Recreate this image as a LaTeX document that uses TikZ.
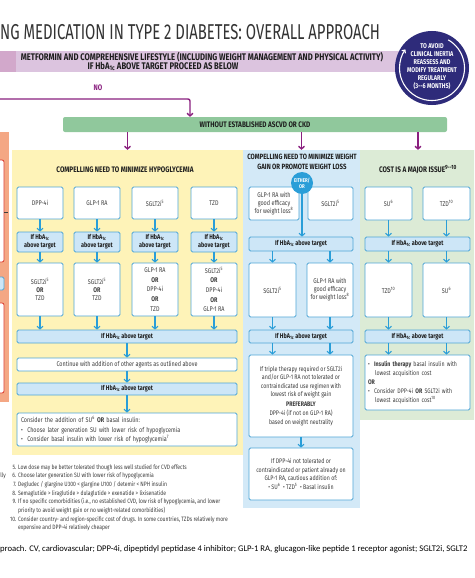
\documentclass[tikz,border=0pt]{standalone}
\usepackage{fontspec}
\usepackage{tikz}
\usetikzlibrary{arrows.meta}
\newfontfamily\dinf[FakeStretch=0.8]{Fira Sans}
\newfontfamily\titlef[FakeStretch=0.69]{Fira Sans}
\newfontfamily\capf{Carlito}
\definecolor{bandpurple}{HTML}{DCC4DF}
\definecolor{banddark}{HTML}{D2A8CB}
\definecolor{nopurple}{HTML}{8A1F7F}
\definecolor{circnavy}{HTML}{2E2B7A}
\definecolor{bandgreen}{HTML}{90C89C}
\definecolor{panelyellow}{HTML}{FEF3B8}
\definecolor{panelblue}{HTML}{D3E9F7}
\definecolor{panelgreen}{HTML}{DCEBD6}
\definecolor{boxblue}{HTML}{4FA6D6}
\definecolor{hbablue}{HTML}{CDE6F7}
\definecolor{arrowblue}{HTML}{2A9ED8}
\definecolor{textgray}{HTML}{3C3C3C}
\definecolor{headblack}{HTML}{1E1E1E}
\definecolor{stripeorange}{HTML}{F4A784}
\definecolor{ascvdred}{HTML}{DB3A2E}
\definecolor{titlegray}{HTML}{333333}
\tikzset{drug box/.style={draw=boxblue, fill=white, rounded corners=1.5pt, line width=0.8pt, align=center, inner sep=0pt, text=textgray, font=\dinf\fontsize{6.8}{8}\selectfont}}
\tikzset{hba box/.style={drug box, fill=hbablue, text=headblack, font=\dinf\bfseries\fontsize{6.8}{8}\selectfont}}
\tikzset{panel title/.style={align=center, inner sep=0pt, text=headblack, font=\dinf\bfseries\fontsize{8}{10}\selectfont}}
\tikzset{blue arrow/.style={draw=arrowblue, line width=1.1pt, -{Straight Barb[length=2.6pt, width=6pt]}}}
\tikzset{purple arrow/.style={draw=nopurple, line width=1.4pt, -{Straight Barb[length=2.6pt, width=6pt]}}}
\tikzset{note/.style={anchor=base west, inner sep=0pt, text=textgray, font=\dinf\fontsize{6.3}{7}\selectfont}}
\newcommand{\hbaone}{HbA\textsubscript{1c}}

\begin{document}
\begin{tikzpicture}[x=1pt, y=-1pt]
	\clip (0,0) rectangle (474,578);
	\fill[white] (0,0) rectangle (474,578);

	% title and metformin band
	\node[anchor=base west, inner sep=0pt, text=titlegray, font=\titlef\fontsize{21.5}{21.5}\selectfont] (title) at (0,40) {NG MEDICATION IN TYPE 2 DIABETES: OVERALL APPROACH};
	\fill[bandpurple] (0,51) rectangle (410,72);
	\fill[banddark] (0,51) rectangle (16,72);
	\node[panel title, anchor=base, font=\dinf\bfseries\fontsize{9.6}{9.6}\selectfont] (metformin) at (202,60.5) {METFORMIN AND COMPREHENSIVE LIFESTYLE (INCLUDING WEIGHT MANAGEMENT AND PHYSICAL ACTIVITY)};
	\node[panel title, anchor=base, font=\dinf\bfseries\fontsize{9.6}{9.6}\selectfont] (proceed) at (163,69.5) {IF \hbaone{} ABOVE TARGET PROCEED AS BELOW};

	% reassess circle
	\fill[circnavy] (432,68) circle (37);
	\draw[white, line width=1.1pt, -{Straight Barb[length=2.4pt, width=4.5pt]}] ([shift={(-60:32.5)}]432,68) arc[start angle=-60, end angle=215, radius=32.5];
	\node[align=center, inner sep=0pt, text=white, font=\dinf\bfseries\fontsize{6.9}{8}\selectfont] (reassess) at (432,67) {TO AVOID\\CLINICAL INERTIA\\REASSESS AND\\MODIFY TREATMENT\\REGULARLY\\(3--6 MONTHS)};

	% no branch
	\node[inner sep=0pt, text=nopurple, font=\dinf\bfseries\fontsize{8}{8}\selectfont] (no) at (98,88) {NO};
	\node[fill=bandgreen, rounded corners=2pt, minimum width=384, minimum height=15, panel title] (without) at (255,124.5) {WITHOUT ESTABLISHED ASCVD OR CKD};
	\coordinate (noleft) at (0,99);
	\coordinate (nocorner) at (190,99);
	\draw[purple arrow, rounded corners=2pt] (noleft) -- (nocorner) -- (nocorner |- without.north);

	% left strip, cut at the edge
	\fill[stripeorange] (0,132) rectangle (9,402);
	\draw[ascvdred, fill=white, line width=0.8pt, rounded corners=2pt] (-20,160) rectangle (4,262);
	\draw[textgray, line width=0.5pt] (4,212) -- (8,212);
	\draw[boxblue, fill=hbablue, line width=0.8pt, rounded corners=1.5pt] (-20,277) rectangle (4,290);
	\draw[ascvdred, fill=white, line width=0.8pt, rounded corners=2pt] (-20,303) rectangle (4,393);

	% panels
	\node[fill=panelyellow, minimum width=231, minimum height=305, inner sep=0pt] (hypo) at (127.5,302.5) {};
	\node[fill=panelblue, minimum width=117, minimum height=358, inner sep=0pt] (weight) at (301.5,329) {};
	\node[fill=panelgreen, minimum width=116, minimum height=270, inner sep=0pt] (cost) at (418,285) {};
	\draw[purple arrow] (without.south -| hypo) -- (hypo);
	\draw[purple arrow] (without.south -| weight) -- (weight);
	\draw[purple arrow] (without.south -| cost) -- (cost);

	% hypoglycemia
	\node[panel title] (hypoT) at (125,170) {COMPELLING NEED TO MINIMIZE HYPOGLYCEMIA};
	\node[drug box, minimum width=46, minimum height=32] (hyA) at (40,203) {DPP-4i};
	\node[drug box, minimum width=46, minimum height=32] (hyB) at (97,203) {GLP-1 RA};
	\node[drug box, minimum width=46, minimum height=32] (hyC) at (155,203) {SGLT2i\textsuperscript{5}};
	\node[drug box, minimum width=46, minimum height=32] (hyD) at (214,203) {TZD};
	\node[hba box, minimum width=46, minimum height=20] (hyA2) at (40,242) {If \hbaone\\above target};
	\node[hba box, minimum width=46, minimum height=20] (hyB2) at (97,242) {If \hbaone\\above target};
	\node[hba box, minimum width=46, minimum height=20] (hyC2) at (155,242) {If \hbaone\\above target};
	\node[hba box, minimum width=46, minimum height=20] (hyD2) at (214,242) {If \hbaone\\above target};
	\node[drug box, minimum width=46, minimum height=53] (hyA3) at (40,289.5) {SGLT2i\textsuperscript{5}\\\textbf{OR}\\TZD};
	\node[drug box, minimum width=46, minimum height=53] (hyB3) at (97,289.5) {SGLT2i\textsuperscript{5}\\\textbf{OR}\\TZD};
	\node[drug box, minimum width=46, minimum height=53, font=\dinf\fontsize{6.8}{9.6}\selectfont] (hyC3) at (155,289.5) {GLP-1 RA\\\textbf{OR}\\DPP-4i\\\textbf{OR}\\TZD};
	\node[drug box, minimum width=46, minimum height=53, font=\dinf\fontsize{6.8}{9.6}\selectfont] (hyD3) at (214,289.5) {SGLT2i\textsuperscript{5}\\\textbf{OR}\\DPP-4i\\\textbf{OR}\\GLP-1 RA};
	\node[hba box, minimum width=220, minimum height=13] (hyHb) at (127,336.5) {If \hbaone{} above target};
	\node[drug box, minimum width=220, minimum height=13] (hyCont) at (127,364.5) {Continue with addition of other agents as outlined above};
	\node[hba box, minimum width=220, minimum height=12] (hyHb2) at (127,389) {If \hbaone{} above target};
	\node[drug box, minimum height=33, text width=212, inner xsep=4pt, align=left, font=\dinf\fontsize{6.8}{8.8}\selectfont] (hyCons) at (127,429.5) {Consider the addition of SU\textsuperscript{6} \textbf{OR} basal insulin:\\[1pt]•\ \ Choose later generation SU with lower risk of hypoglycemia\\•\ \ Consider basal insulin with lower risk of hypoglycemia\textsuperscript{7}};

	\draw[blue arrow] (hyA) -- (hyA2);
	\draw[blue arrow] (hyB) -- (hyB2);
	\draw[blue arrow] (hyC) -- (hyC2);
	\draw[blue arrow] (hyD) -- (hyD2);
	\draw[blue arrow] (hyA2) -- (hyA3);
	\draw[blue arrow] (hyB2) -- (hyB3);
	\draw[blue arrow] (hyC2) -- (hyC3);
	\draw[blue arrow] (hyD2) -- (hyD3);
	\draw[blue arrow] (hyA3) -- (hyA3 |- hyHb.north);
	\draw[blue arrow] (hyB3) -- (hyB3 |- hyHb.north);
	\draw[blue arrow] (hyC3) -- (hyC3 |- hyHb.north);
	\draw[blue arrow] (hyD3) -- (hyD3 |- hyHb.north);
	\draw[blue arrow] (hyHb) -- (hyCont);
	\draw[blue arrow] (hyCont) -- (hyHb2);
	\draw[blue arrow] (hyHb2) -- (hyCons);

	% weight
	\node[panel title, font=\dinf\bfseries\fontsize{7.6}{9.6}\selectfont] (weightT) at (302,162) {COMPELLING NEED TO MINIMIZE WEIGHT\\GAIN OR PROMOTE WEIGHT LOSS};
	\node[drug box, minimum width=50, minimum height=33] (wtA) at (274,203.5) {GLP-1 RA with\\good efficacy\\for weight loss\textsuperscript{8}};
	\node[drug box, minimum width=45, minimum height=33] (wtB) at (330.5,203.5) {SGLT2i\textsuperscript{5}};
	\node[hba box, minimum width=104, minimum height=14] (wtHb) at (301,244) {If \hbaone{} above target};
	\node[drug box, minimum width=47, minimum height=54] (wtA3) at (272.5,290) {SGLT2i\textsuperscript{5}};
	\node[drug box, minimum width=46, minimum height=54] (wtB3) at (330,290) {GLP-1 RA with\\good efficacy\\for weight loss\textsuperscript{8}};
	\node[hba box, minimum width=104, minimum height=13] (wtHb2) at (301,336.5) {If \hbaone{} above target};
	\node[drug box, minimum width=104, minimum height=82, font=\dinf\fontsize{6.6}{8.3}\selectfont] (wtTriple) at (301,396) {If triple therapy required or SGLT2i\\and/or GLP-1 RA not tolerated or\\contraindicated use regimen with\\lowest risk of weight gain\\[1.5pt]\textbf{PREFERABLY}\\[1.5pt]DPP-4i (if not on GLP-1 RA)\\based on weight neutrality};
	\node[drug box, minimum width=104, minimum height=52, font=\dinf\fontsize{6.6}{8.8}\selectfont] (wtLast) at (301,474) {If DPP-4i not tolerated or\\contraindicated or patient already on\\GLP-1 RA, cautious addition of:\\•\ SU\textsuperscript{6}\ \ •\ TZD\textsuperscript{5}\ \ •\ Basal insulin};
	\node[circle, fill=arrowblue, minimum size=22, inner sep=0pt, align=center, text=white, font=\dinf\bfseries\fontsize{5.4}{6.2}\selectfont] (either) at (302,183) {EITHER/\\OR};

	\draw[blue arrow] (either) -- (either |- wtHb.north);
	\draw[blue arrow] (wtHb.south -| wtA3) -- (wtA3);
	\draw[blue arrow] (wtHb.south -| wtB3) -- (wtB3);
	\draw[blue arrow] (wtA3) -- (wtA3 |- wtHb2.north);
	\draw[blue arrow] (wtB3) -- (wtB3 |- wtHb2.north);
	\draw[blue arrow] (wtHb2.south -| wtA3) -- (wtA3 |- wtTriple.north);
	\draw[blue arrow] (wtHb2.south -| wtB3) -- (wtB3 |- wtTriple.north);
	\draw[blue arrow] (wtTriple) -- (wtLast);

	% cost
	\node[panel title] (costT) at (418,170) {COST IS A MAJOR ISSUE\textsuperscript{9--10}};
	\node[drug box, minimum width=47, minimum height=33] (coA) at (388.5,203.5) {SU\textsuperscript{6}};
	\node[drug box, minimum width=47, minimum height=33] (coB) at (446.5,203.5) {TZD\textsuperscript{10}};
	\node[hba box, minimum width=105, minimum height=14] (coHb) at (417.5,244) {If \hbaone{} above target};
	\node[drug box, minimum width=47, minimum height=54] (coA3) at (388.5,290) {TZD\textsuperscript{10}};
	\node[drug box, minimum width=47, minimum height=54] (coB3) at (446.5,290) {SU\textsuperscript{6}};
	\node[hba box, minimum width=105, minimum height=13] (coHb2) at (417.5,336.5) {If \hbaone{} above target};
	\node[drug box, minimum height=55, text width=99, inner xsep=3pt, align=left, font=\dinf\fontsize{6.6}{8.8}\selectfont] (coLast) at (417.5,382.5) {•\ \ \textbf{Insulin therapy} basal insulin with\\\hspace*{7pt}lowest acquisition cost\\\textbf{OR}\\•\ \ Consider DPP-4i \textbf{OR} SGLT2i with\\\hspace*{7pt}lowest acquisition cost\textsuperscript{10}};

	\draw[blue arrow] (coA) -- (coA |- coHb.north);
	\draw[blue arrow] (coB) -- (coB |- coHb.north);
	\draw[blue arrow] (coHb.south -| coA3) -- (coA3);
	\draw[blue arrow] (coHb.south -| coB3) -- (coB3);
	\draw[blue arrow] (coA3) -- (coA3 |- coHb2.north);
	\draw[blue arrow] (coB3) -- (coB3 |- coHb2.north);
	\draw[blue arrow] (coHb2.south -| coA3) -- (coA3 |- coLast.north);
	\draw[blue arrow] (coHb2.south -| coB3) -- (coB3 |- coLast.north);

	% footnotes
	\node[note, anchor=base east] (cut) at (6,477.7) {lly};
	\node[note, anchor=base east] (n5) at (16.5,469) {5.};
	\node[note] (t5) at (18,469) {Low dose may be better tolerated though less well studied for CVD effects};
	\node[note, anchor=base east] (n6) at (16.5,477.7) {6.};
	\node[note] (t6) at (18,477.7) {Choose later generation SU with lower risk of hypoglycemia};
	\node[note, anchor=base east] (n7) at (16.5,486.4) {7.};
	\node[note] (t7) at (18,486.4) {Degludec / glargine U300 < glargine U100 / detemir < NPH insulin};
	\node[note, anchor=base east] (n8) at (16.5,495.1) {8.};
	\node[note] (t8) at (18,495.1) {Semaglutide > liraglutide > dulaglutide > exenatide > lixisenatide};
	\node[note, anchor=base east] (n9) at (16.5,503.8) {9.};
	\node[note] (t9) at (18,503.8) {If no specific comorbidities (i.e., no established CVD, low risk of hypoglycemia, and lower};
	\node[note] (t9b) at (18,512.5) {priority to avoid weight gain or no weight-related comorbidities)};
	\node[note, anchor=base east] (n10) at (16.5,521.2) {10.};
	\node[note] (t10) at (18,521.2) {Consider country- and region-specific cost of drugs. In some countries, TZDs relatively more};
	\node[note] (t10b) at (18,529.9) {expensive and DPP-4i relatively cheaper};

	% caption
	\node[anchor=base west, inner sep=0pt, font=\capf\fontsize{8.65}{9}\selectfont] (caption) at (0,551) {proach. CV, cardiovascular; DPP-4i, dipeptidyl peptidase 4 inhibitor; GLP-1 RA, glucagon-like peptide 1 receptor agonist; SGLT2i, SGLT2};
\end{tikzpicture}
\end{document}
